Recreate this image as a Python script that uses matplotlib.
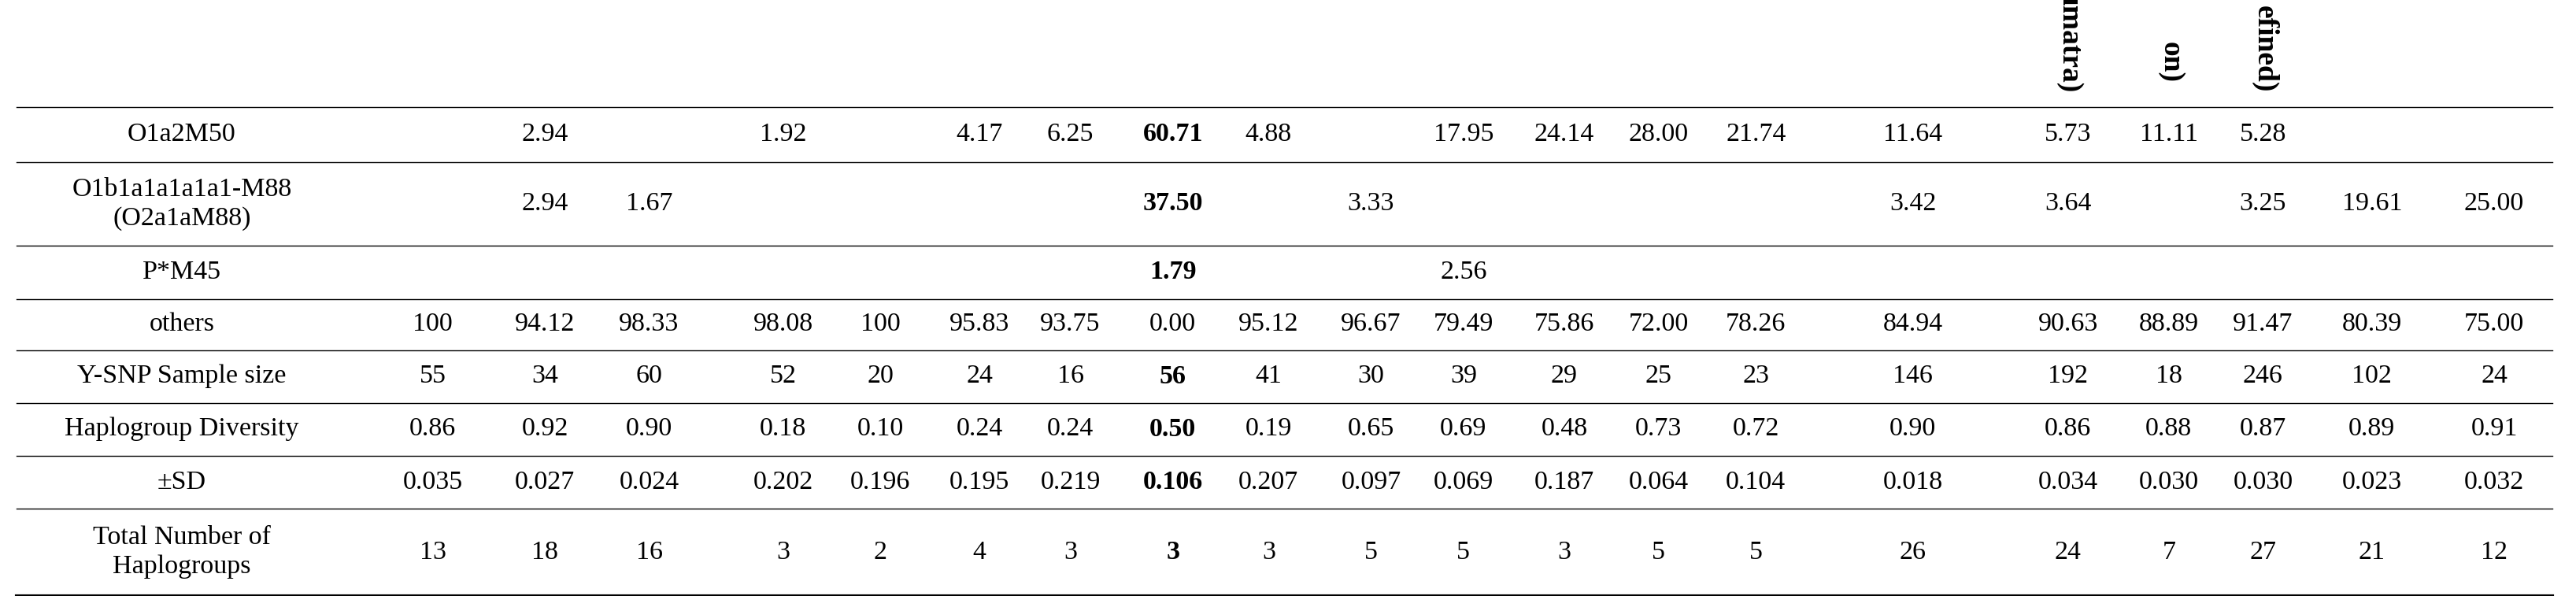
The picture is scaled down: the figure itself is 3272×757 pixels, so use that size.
import matplotlib
matplotlib.use("Agg")
import matplotlib.pyplot as plt

row_labels = ["O1a2M50", "O1b1a1a1a1a1-M88\n(O2a1aM88)", "P*M45", "others", "Y-SNP Sample size",
              "Haplogroup Diversity", "±SD", "Total Number of\nHaplogroups"]
r1 = ["", "2.94", "", "1.92", "", "4.17", "6.25", "60.71", "4.88", "", "17.95", "24.14", "28.00", "21.74", "11.64", "5.73", "11.11", "5.28", "", ""]
r2 = ["", "2.94", "1.67", "", "", "", "", "37.50", "", "3.33", "", "", "", "", "3.42", "3.64", "", "3.25", "19.61", "25.00"]
r3 = ["", "", "", "", "", "", "", "1.79", "", "", "2.56", "", "", "", "", "", "", "", "", ""]
r4 = ["100", "94.12", "98.33", "98.08", "100", "95.83", "93.75", "0.00", "95.12", "96.67", "79.49", "75.86", "72.00", "78.26", "84.94", "90.63", "88.89", "91.47", "80.39", "75.00"]
r5 = ["55", "34", "60", "52", "20", "24", "16", "56", "41", "30", "39", "29", "25", "23", "146", "192", "18", "246", "102", "24"]
r6 = ["0.86", "0.92", "0.90", "0.18", "0.10", "0.24", "0.24", "0.50", "0.19", "0.65", "0.69", "0.48", "0.73", "0.72", "0.90", "0.86", "0.88", "0.87", "0.89", "0.91"]
r7 = ["0.035", "0.027", "0.024", "0.202", "0.196", "0.195", "0.219", "0.106", "0.207", "0.097", "0.069", "0.187", "0.064", "0.104", "0.018", "0.034", "0.030", "0.030", "0.023", "0.032"]
r8 = ["13", "18", "16", "3", "2", "4", "3", "3", "3", "5", "5", "3", "5", "5", "26", "24", "7", "27", "21", "12"]
rows = [r1, r2, r3, r4, r5, r6, r7, r8]
header_parts = {15: "umatra)", 16: "on)", 17: "efined)"}

W, H = 1560.0, 361.0
col_x = [262, 330, 393, 474, 533, 593, 648, 710, 768, 830, 886, 947, 1004, 1063, 1158, 1252, 1313, 1370, 1436, 1510]
lines_y = [65, 98, 149, 181, 212, 244, 276, 308, 361]
header_bottom = [56, 50, 56]
label_x = 110

plt.rcParams['font.family'] = ['Liberation Serif', 'DejaVu Serif']
fig = plt.figure(figsize=(32.73, 7.57), dpi=100)
ax = fig.add_axes([0, 0, 1, 1])
ax.set_xlim(0, W); ax.set_ylim(H, 0); ax.axis('off')
fs = 24.5

for i, y in enumerate(lines_y):
    ax.plot([10, 1545], [y, y], color='black', lw=3.0 if i == len(lines_y) - 1 else 1.0)

for (k, t), yb in zip(header_parts.items(), header_bottom):
    ax.text(col_x[k] + 1, yb, t, rotation=-90, ha='center', va='bottom', fontsize=27, fontweight='bold')

for r, (lab, vals) in enumerate(zip(row_labels, rows)):
    yc = (lines_y[r] + lines_y[r + 1]) / 2
    ax.text(label_x, yc, lab, ha='center', va='center', fontsize=fs, linespacing=1.25)
    for c, v in enumerate(vals):
        if v:
            bold = (c == 7 and v != "0.00")
            ax.text(col_x[c], yc, v, ha='center', va='center', fontsize=fs,
                    fontweight='bold' if bold else 'normal')

fig.savefig("out.png", dpi=100)
